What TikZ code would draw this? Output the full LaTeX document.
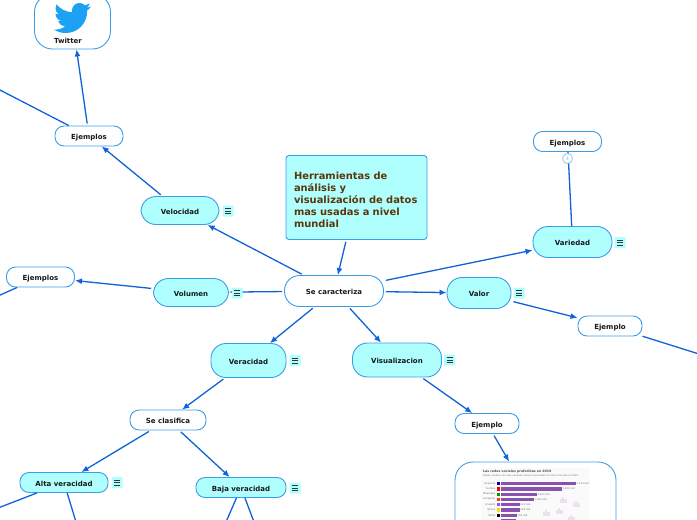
\documentclass[tikz,border=0pt]{standalone}
\usepackage{fontspec}
\setmainfont{DejaVu Sans}
\usetikzlibrary{arrows.meta}
\definecolor{cyanfill}{HTML}{AFFFFF}
\definecolor{edgeblue}{HTML}{3C9DE6}
\definecolor{linkblue}{HTML}{0F62D8}
\definecolor{titlebrown}{HTML}{5C3608}
\definecolor{birdblue}{HTML}{1DA1F2}
\definecolor{barpurple}{HTML}{8A52B0}
\tikzset{
    topic/.style={draw=edgeblue, line width=0.9pt, rounded corners=15pt, font=\bfseries\fontsize{7}{8}\selectfont, text=black!90, text height=7.6pt, text depth=0pt},
    cyantopic/.style={topic, fill=cyanfill, minimum width=#1},
    whitetopic/.style={topic, fill=white, minimum width=#1},
    titlebox/.style={draw=edgeblue, line width=0.9pt, fill=cyanfill, rounded corners=3pt, minimum width=141pt, minimum height=84pt,
        text width=125pt, align=left, inner sep=0pt, text=titlebrown, font=\bfseries\fontsize{9.9}{12}\selectfont},
    menubox/.style={fill=cyanfill, rounded corners=1pt, minimum size=11pt, inner sep=0pt},
    marker/.style={circle, draw=edgeblue!50, fill=white, line width=0.9pt, minimum size=10pt, inner sep=0pt, text=edgeblue!70, font=\fontsize{4.5}{5}\selectfont},
    tinytext/.style={inner sep=0pt, font=\fontsize{2.4}{3}\selectfont, text=black!55},
    link/.style={draw=linkblue, line width=1.3pt},
    arrowlink/.style={link, -{Latex[length=7pt,width=6pt]}, shorten <=2pt},
}
\newcommand{\menuicon}[1]{
    \node[menubox] (#1) {};
    \draw[black!80, line width=0.6pt] ([xshift=-3pt,yshift=2.5pt]#1.center) -- ([xshift=3pt,yshift=2.5pt]#1.center)
        ([xshift=-3pt]#1.center) -- ([xshift=3pt]#1.center)
        ([xshift=-3pt,yshift=-2.5pt]#1.center) -- ([xshift=3pt,yshift=-2.5pt]#1.center);
}
\begin{document}
\begin{tikzpicture}[x=1pt, y=-1pt]

    % Page
    \useasboundingbox (0, 0) rectangle (697, 520);
    \clip (0, 0) rectangle (697, 520);

    % Centre
    \node[whitetopic=99pt, minimum height=31pt] (caracteriza) at (334, 291) {Se caracteriza};
    \node[titlebox] (titulo) at (356.5, 197.5)
        {\rule{0pt}{13pt}Herramientas de\\análisis y\\visualización de datos\\mas usadas a nivel\\mundial};

    % First level
    \node[cyantopic=78pt, minimum height=28pt] (velocidad) at (180, 210.5) {Velocidad};
    \node[cyantopic=75pt, minimum height=28pt] (volumen) at (191, 292.5) {Volumen};
    \node[cyantopic=75pt, minimum height=34pt] (veracidad) at (248.5, 360.5) {Veracidad};
    \node[cyantopic=89pt, minimum height=34pt] (visualizacion) at (397, 360) {Visualizacion};
    \node[cyantopic=64pt, minimum height=31pt] (valor) at (479, 293) {Valor};
    \node[cyantopic=79pt, minimum height=31pt] (variedad) at (572.5, 242) {Variedad};

    % Second level
    \node[whitetopic=68pt, minimum height=20pt, rounded corners=9pt] (ejemplosvel) at (89, 136) {Ejemplos};
    \node[whitetopic=68pt, minimum height=20pt, rounded corners=9pt] (ejemplosvol) at (40.5, 277) {Ejemplos};
    \node[whitetopic=68pt, minimum height=20pt, rounded corners=9pt] (ejemplosvar) at (567.5, 141.5) {Ejemplos};
    \node[whitetopic=64pt, minimum height=20pt, rounded corners=9pt] (ejemplovis) at (487, 423.5) {Ejemplo};
    \node[whitetopic=64pt, minimum height=20pt, rounded corners=9pt] (ejemploval) at (610, 326) {Ejemplo};
    \node[whitetopic=76pt, minimum height=20pt, rounded corners=9pt] (clasifica) at (168, 420) {Se clasifica};
    \node[cyantopic=88pt, minimum height=20pt, rounded corners=9pt] (alta) at (64, 482.5) {Alta veracidad};
    \node[cyantopic=90pt, minimum height=20pt, rounded corners=9pt] (baja) at (241, 487.5) {Baja veracidad};

    % Picture nodes
    \node[whitetopic=76pt, minimum height=55pt, rounded corners=18pt] (twitter) at (72.5, 21.5) {};
    \node[font=\bfseries\fontsize{7}{8}\selectfont, text=black!90, inner sep=0pt] (twitterlabel) at (68, 40.5) {Twitter};
    \node[whitetopic=161pt, minimum height=90pt, rounded corners=18pt] (grafico) at (535.5, 507) {};

    % Free ends
    \coordinate (fueravel) at (-2, 89);
    \coordinate (fueravol) at (-2, 296);
    \coordinate (fueraval) at (699, 354);
    \coordinate (fueraalta) at (-2, 508);
    \coordinate (abajoalta) at (76, 522);
    \coordinate (abajobaja1) at (226, 522);
    \coordinate (abajobaja2) at (254, 522);

    % Connectors
    \draw[arrowlink] (titulo) -- (caracteriza);
    \draw[arrowlink] (caracteriza) -- (velocidad);
    \draw[arrowlink] (caracteriza) -- (volumen);
    \draw[arrowlink] (caracteriza) -- (veracidad);
    \draw[arrowlink] (caracteriza) -- (visualizacion);
    \draw[arrowlink] (caracteriza) -- (valor);
    \draw[arrowlink] (caracteriza) -- (variedad);
    \draw[arrowlink] (velocidad) -- (ejemplosvel);
    \draw[arrowlink] (ejemplosvel) -- (twitter);
    \draw[arrowlink] (volumen) -- (ejemplosvol);
    \draw[arrowlink] (veracidad) -- (clasifica);
    \draw[arrowlink] (clasifica) -- (alta);
    \draw[arrowlink] (clasifica) -- (baja);
    \draw[arrowlink] (visualizacion) -- (ejemplovis);
    \draw[arrowlink] (ejemplovis) -- (grafico);
    \draw[arrowlink] (valor) -- (ejemploval);
    \draw[link] (variedad) -- (ejemplosvar);
    \draw[link] (ejemplosvel) -- (fueravel);
    \draw[link] (ejemplosvol) -- (fueravol);
    \draw[link] (ejemploval) -- (fueraval);
    \draw[link] (alta) -- (fueraalta);
    \draw[link] (alta) -- (abajoalta);
    \draw[link] (baja) -- (abajobaja1);
    \draw[link] (baja) -- (abajobaja2);

    % Menu icons
    \begin{scope}[shift={(228, 211)}] \menuicon{menuvel} \end{scope}
    \begin{scope}[shift={(237, 293)}] \menuicon{menuvol} \end{scope}
    \begin{scope}[shift={(295, 360.5)}] \menuicon{menuver} \end{scope}
    \begin{scope}[shift={(449.5, 360)}] \menuicon{menuvis} \end{scope}
    \begin{scope}[shift={(519, 293)}] \menuicon{menuval} \end{scope}
    \begin{scope}[shift={(620, 242.5)}] \menuicon{menuvar} \end{scope}
    \begin{scope}[shift={(117, 482.5)}] \menuicon{menualt} \end{scope}
    \begin{scope}[shift={(295, 488)}] \menuicon{menubaj} \end{scope}

    % Collapsed marker
    \node[marker] (marcador) at (567.5, 158.5) {4};

    % Bird
    \begin{scope}[shift={(54, -0.5)}, x=1.54pt, y=-1.54pt]
        \fill[birdblue] (23.953,4.57) .. controls (23.1,4.95) and (22.1,5.22) .. (21.128,5.345)
            .. controls (22.1,4.75) and (22.9,3.8) .. (23.291,2.622)
            .. controls (22.34,3.177) and (21.286,3.581) .. (20.164,3.806)
            .. controls (19.2,2.85) and (17.9,2.25) .. (16.57,2.25)
            .. controls (13.85,2.25) and (11.65,4.45) .. (11.65,7.17)
            .. controls (11.65,7.55) and (11.7,7.92) .. (11.78,8.288)
            .. controls (7.69,8.095) and (4.067,6.13) .. (1.64,3.162)
            .. controls (1.2,3.9) and (.974,4.75) .. (.974,5.637)
            .. controls (.974,7.347) and (1.844,8.85) .. (3.162,9.733)
            .. controls (2.35,9.7) and (1.6,9.5) .. (.934,9.117)
            -- (.934,9.177)
            .. controls (.934,11.55) and (2.64,13.55) .. (4.88,14.004)
            .. controls (4.15,14.2) and (3.4,14.23) .. (2.668,14.089)
            .. controls (3.3,16.05) and (5.1,17.45) .. (7.272,17.506)
            .. controls (5.6,18.8) and (3.5,19.611) .. (1.17,19.611)
            .. controls (.78,19.611) and (.391,19.588) .. (0,19.544)
            .. controls (2.2,20.95) and (4.8,21.753) .. (7.557,21.753)
            .. controls (16.61,21.753) and (21.555,14.257) .. (21.555,7.768)
            .. controls (21.555,7.558) and (21.555,7.348) .. (21.54,7.138)
            .. controls (22.5,6.44) and (23.35,5.57) .. (24,4.59) -- cycle;
    \end{scope}

    % Chart
    \fill[black!2] (481, 468) rectangle (590, 520);
    \node[anchor=west, inner sep=0pt, font=\bfseries\fontsize{3.2}{4}\selectfont, text=black!70] (charttitle) at (483, 472) {Las redes sociales preferidas en 2019};
    \node[anchor=west, tinytext] (chartsub) at (483, 475.7) {Redes sociales con más usuarios activos mensuales en todo el mundo en 2019};
    % Thumbs in the background
    \foreach \x/\y in {563/500, 576/504, 546/513, 559/511, 571/518}{
        \fill[barpurple!18] (\x-3.5, \y-1) rectangle (\x+3.5, \y+3);
        \fill[barpurple!18] (\x-1, \y-3.5) rectangle (\x+1, \y);
    }
    \foreach \y/\w/\c/\n/\v in {483.7/75/blue!70!black/Facebook/2.320 mill.,
        489/61/red/YouTube/1.900 mill., 494.3/36/green!60!black/WhatsApp/1.600 mill.,
        499.3/33/red!50!orange/Instagram/1.000 mill., 504.7/19/blue!60/LinkedIn/610 mill.,
        510/19/yellow!80!orange/QZone/600 mill., 515.3/16/black/TikTok/500 mill.}{
        \fill[barpurple] (501, \y-1.7) rectangle ++(\w, 3.4);
        \fill[\c] (496.5, \y-1.7) rectangle ++(3.6, 3.4);
        \node[anchor=east, tinytext] at (495.5, \y) {\n};
        \node[anchor=west, tinytext] at (501.5+\w, \y) {\v};
    }
    \fill[barpurple] (501, 519) rectangle ++(15, 2);

\end{tikzpicture}
\end{document}
